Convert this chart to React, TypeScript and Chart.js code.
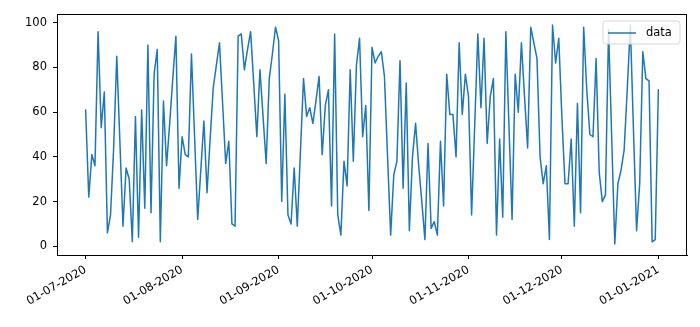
import React, { useEffect, useRef } from "react";
import { Chart, registerables } from "chart.js";

Chart.register(...registerables);

// Daily series starting 01-07-2020 (day index 0) through 01-01-2021 (day 184)
const values: number[] = [
  61, 22, 41, 36, 96, 53, 69, 6, 14, 44,
  85, 47, 9, 35, 30, 2, 58, 4, 61, 17,
  90, 15, 77, 88, 2, 65, 36, 55, 75, 94,
  26, 49, 41, 40, 86, 49, 12, 34, 56, 24,
  48, 71, 81, 91, 64, 37, 47, 10, 9, 94,
  95, 79, 88, 96, 73, 49, 79, 58, 37, 75,
  86, 98, 92, 20, 68, 14, 10, 35, 9, 42,
  75, 58, 62, 55, 65, 76, 41, 63, 70, 18,
  95, 14, 5, 38, 27, 79, 38, 81, 93, 49,
  63, 16, 89, 82, 85, 87, 76, 40, 5, 32,
  38, 83, 26, 73, 7, 40, 55, 36, 20, 3,
  46, 8, 11, 5, 47, 18, 77, 59, 59, 40,
  91, 59, 77, 67, 14, 54, 95, 62, 93, 46,
  67, 75, 5, 48, 13, 96, 54, 12, 77, 60,
  91, 67, 44, 98, 91, 84, 40, 28, 36, 3,
  99, 82, 93, 58, 28, 28, 48, 9, 64, 15,
  98, 70, 50, 49, 84, 33, 20, 23, 97, 49,
  1, 28, 34, 43, 70, 99, 52, 7, 28, 87,
  75, 74, 2, 3, 70,
];
const xTickDays = [0, 31, 62, 92, 123, 153, 184];
const xTickLabels = [
  "01-07-2020",
  "01-08-2020",
  "01-09-2020",
  "01-10-2020",
  "01-11-2020",
  "01-12-2020",
  "01-01-2021",
];
const yTicks = [0, 20, 40, 60, 80, 100];
const seriesLabel = "data";

const FONT = "'DejaVu Sans', sans-serif";
const FS = 11.5;

export default function App() {
  const ref = useRef<HTMLCanvasElement | null>(null);

  useEffect(() => {
    if (!ref.current) return;
    const pts = values.map((v, i) => ({ x: i, y: v }));
    const n = values.length - 1;
    const xMargin = n * 0.05;
    const yMin = Math.min(...values);
    const yMax = Math.max(...values);
    const yMargin = (yMax - yMin) * 0.05;

    const framePlugin = {
      id: "frame",
      afterDraw(chart: any) {
        const { ctx, chartArea } = chart;
        const { left, right, top, bottom } = chartArea;
        ctx.save();
        ctx.strokeStyle = "#000";
        ctx.lineWidth = 1;
        ctx.beginPath();
        ctx.moveTo(left, top + 0.5);
        ctx.lineTo(right, top + 0.5);
        ctx.moveTo(right - 0.5, top);
        ctx.lineTo(right - 0.5, bottom);
        ctx.stroke();

        // legend (upper right, inside axes)
        const bw = 77;
        const bh = 23;
        const bx = right - 7 - bw;
        const by = top + 7;
        const r = 3;
        ctx.beginPath();
        ctx.moveTo(bx + r, by);
        ctx.lineTo(bx + bw - r, by);
        ctx.arcTo(bx + bw, by, bx + bw, by + r, r);
        ctx.lineTo(bx + bw, by + bh - r);
        ctx.arcTo(bx + bw, by + bh, bx + bw - r, by + bh, r);
        ctx.lineTo(bx + r, by + bh);
        ctx.arcTo(bx, by + bh, bx, by + bh - r, r);
        ctx.lineTo(bx, by + r);
        ctx.arcTo(bx, by, bx + r, by, r);
        ctx.closePath();
        ctx.fillStyle = "rgba(255,255,255,0.8)";
        ctx.fill();
        ctx.strokeStyle = "#d8d8d8";
        ctx.lineWidth = 1;
        ctx.stroke();
        ctx.strokeStyle = "#1f77b4";
        ctx.lineWidth = 1.5;
        ctx.beginPath();
        ctx.moveTo(bx + 5, by + bh / 2 + 0.5);
        ctx.lineTo(bx + 33, by + bh / 2 + 0.5);
        ctx.stroke();
        ctx.fillStyle = "#000";
        ctx.font = FS + "px " + FONT;
        ctx.textBaseline = "middle";
        ctx.textAlign = "left";
        ctx.fillText(seriesLabel, bx + 43, by + bh / 2 + 0.5);
        ctx.restore();
      },
    };

    const chart = new Chart(ref.current, {
      type: "line",
      data: {
        datasets: [
          {
            label: seriesLabel,
            data: pts,
            borderColor: "#1f77b4",
            backgroundColor: "#1f77b4",
            borderWidth: 1.5,
            pointRadius: 0,
            tension: 0,
            borderJoinStyle: "round",
            borderCapStyle: "round",
          },
        ],
      },
      options: {
        animation: false,
        responsive: false,
        maintainAspectRatio: false,
        devicePixelRatio: 1,
        layout: { padding: { top: 14, right: 13, left: 0, bottom: 0 } },
        plugins: {
          legend: { display: false },
          tooltip: { enabled: false },
        },
        scales: {
          x: {
            type: "linear",
            min: -xMargin,
            max: n + xMargin,
            afterBuildTicks(scale: any) {
              scale.ticks = xTickDays.map((d) => ({ value: d }));
            },
            afterFit(scale: any) {
              scale.height = 72;
            },
            ticks: {
              autoSkip: false,
              minRotation: 30,
              maxRotation: 30,
              padding: 4,
              color: "#000",
              font: { family: FONT, size: FS },
              callback(value: any) {
                const idx = xTickDays.indexOf(value);
                return idx >= 0 ? xTickLabels[idx] : "";
              },
            },
            grid: {
              drawOnChartArea: false,
              drawTicks: true,
              tickLength: 4,
              tickColor: "#000",
            },
            border: { display: true, color: "#000", width: 1 },
          },
          y: {
            type: "linear",
            min: yMin - yMargin,
            max: yMax + yMargin,
            afterBuildTicks(scale: any) {
              scale.ticks = yTicks.map((v) => ({ value: v }));
            },
            afterFit(scale: any) {
              scale.width = 57;
            },
            ticks: {
              padding: 6,
              color: "#000",
              font: { family: FONT, size: FS },
              callback(value: any) {
                return String(value);
              },
            },
            grid: {
              drawOnChartArea: false,
              drawTicks: true,
              tickLength: 4,
              tickColor: "#000",
            },
            border: { display: true, color: "#000", width: 1 },
          },
        },
      },
      plugins: [framePlugin],
    } as any);

    return () => chart.destroy();
  }, []);

  return (
    <div style={{ position: "fixed", left: 0, top: 0, width: 700, height: 327, background: "#fff" }}>
      <canvas ref={ref} width={700} height={327} style={{ width: 700, height: 327 }} />
    </div>
  );
}
